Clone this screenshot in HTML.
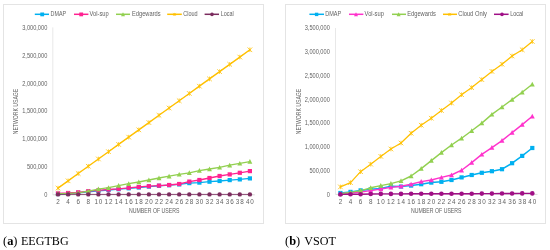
<!DOCTYPE html>
<html><head><meta charset="utf-8"><title>Network usage charts</title>
<style>
html,body{margin:0;padding:0;background:#fff;width:550px;height:250px;overflow:hidden}
svg{display:block}
</style></head><body>
<svg width="550" height="250" viewBox="0 0 550 250" font-family="'Liberation Sans', Arial, sans-serif">
<rect x="3.5" y="4.5" width="260" height="219" fill="#fff" stroke="#e4e4e4" stroke-width="1"/>
<line x1="52.8" y1="27.4" x2="52.8" y2="194.8" stroke="#e8e8e8" stroke-width="1"/>
<line x1="52.8" y1="194.8" x2="254.8" y2="194.8" stroke="#d9d9d9" stroke-width="1"/>
<text x="47.3" y="197.1" font-size="6.4" text-anchor="end" fill="#636363" textLength="3.14" lengthAdjust="spacingAndGlyphs">0</text>
<text x="47.3" y="169.2" font-size="6.4" text-anchor="end" fill="#636363" textLength="20.41" lengthAdjust="spacingAndGlyphs">500,000</text>
<text x="47.3" y="141.3" font-size="6.4" text-anchor="end" fill="#636363" textLength="25.1" lengthAdjust="spacingAndGlyphs">1,000,000</text>
<text x="47.3" y="113.4" font-size="6.4" text-anchor="end" fill="#636363" textLength="25.1" lengthAdjust="spacingAndGlyphs">1,500,000</text>
<text x="47.3" y="85.5" font-size="6.4" text-anchor="end" fill="#636363" textLength="25.1" lengthAdjust="spacingAndGlyphs">2,000,000</text>
<text x="47.3" y="57.6" font-size="6.4" text-anchor="end" fill="#636363" textLength="25.1" lengthAdjust="spacingAndGlyphs">2,500,000</text>
<text x="47.3" y="29.7" font-size="6.4" text-anchor="end" fill="#636363" textLength="25.1" lengthAdjust="spacingAndGlyphs">3,000,000</text>
<text x="58" y="203.8" font-size="6.3" text-anchor="middle" fill="#636363">2</text>
<text x="68.1" y="203.8" font-size="6.3" text-anchor="middle" fill="#636363">4</text>
<text x="78.2" y="203.8" font-size="6.3" text-anchor="middle" fill="#636363">6</text>
<text x="88.3" y="203.8" font-size="6.3" text-anchor="middle" fill="#636363">8</text>
<text x="98.4" y="203.8" font-size="6.3" text-anchor="middle" fill="#636363" textLength="7.9" lengthAdjust="spacing">10</text>
<text x="108.5" y="203.8" font-size="6.3" text-anchor="middle" fill="#636363" textLength="7.9" lengthAdjust="spacing">12</text>
<text x="118.6" y="203.8" font-size="6.3" text-anchor="middle" fill="#636363" textLength="7.9" lengthAdjust="spacing">14</text>
<text x="128.7" y="203.8" font-size="6.3" text-anchor="middle" fill="#636363" textLength="7.9" lengthAdjust="spacing">16</text>
<text x="138.8" y="203.8" font-size="6.3" text-anchor="middle" fill="#636363" textLength="7.9" lengthAdjust="spacing">18</text>
<text x="148.9" y="203.8" font-size="6.3" text-anchor="middle" fill="#636363" textLength="7.9" lengthAdjust="spacing">20</text>
<text x="159" y="203.8" font-size="6.3" text-anchor="middle" fill="#636363" textLength="7.9" lengthAdjust="spacing">22</text>
<text x="169.1" y="203.8" font-size="6.3" text-anchor="middle" fill="#636363" textLength="7.9" lengthAdjust="spacing">24</text>
<text x="179.2" y="203.8" font-size="6.3" text-anchor="middle" fill="#636363" textLength="7.9" lengthAdjust="spacing">26</text>
<text x="189.3" y="203.8" font-size="6.3" text-anchor="middle" fill="#636363" textLength="7.9" lengthAdjust="spacing">28</text>
<text x="199.4" y="203.8" font-size="6.3" text-anchor="middle" fill="#636363" textLength="7.9" lengthAdjust="spacing">30</text>
<text x="209.5" y="203.8" font-size="6.3" text-anchor="middle" fill="#636363" textLength="7.9" lengthAdjust="spacing">32</text>
<text x="219.6" y="203.8" font-size="6.3" text-anchor="middle" fill="#636363" textLength="7.9" lengthAdjust="spacing">34</text>
<text x="229.7" y="203.8" font-size="6.3" text-anchor="middle" fill="#636363" textLength="7.9" lengthAdjust="spacing">36</text>
<text x="239.8" y="203.8" font-size="6.3" text-anchor="middle" fill="#636363" textLength="7.9" lengthAdjust="spacing">38</text>
<text x="249.9" y="203.8" font-size="6.3" text-anchor="middle" fill="#636363" textLength="7.9" lengthAdjust="spacing">40</text>
<text x="154.2" y="213.1" font-size="6.3" text-anchor="middle" fill="#636363" textLength="50.5" lengthAdjust="spacingAndGlyphs">NUMBER OF USERS</text>
<text x="0" y="0" font-size="6.3" text-anchor="middle" textLength="45.5" lengthAdjust="spacingAndGlyphs" fill="#636363" transform="translate(18.2 111.5) rotate(-90)">NETWORK USAGE</text>
<polyline points="58,194 68.1,193.6 78.2,192.9 88.3,191.8 98.4,190.9 108.5,190 118.6,189.2 128.7,188.3 138.8,187.5 148.9,186.6 159,185.8 169.1,185.2 179.2,184.4 189.3,183.1 199.4,182.6 209.5,181.7 219.6,181 229.7,180.1 239.8,179.4 249.9,178.4" fill="none" stroke="#00b0f0" stroke-width="1.35" stroke-linejoin="round" stroke-linecap="round"/>
<rect x="55.9" y="191.9" width="4.2" height="4.2" fill="#00b0f0"/>
<rect x="66" y="191.5" width="4.2" height="4.2" fill="#00b0f0"/>
<rect x="76.1" y="190.8" width="4.2" height="4.2" fill="#00b0f0"/>
<rect x="86.2" y="189.7" width="4.2" height="4.2" fill="#00b0f0"/>
<rect x="96.3" y="188.8" width="4.2" height="4.2" fill="#00b0f0"/>
<rect x="106.4" y="187.9" width="4.2" height="4.2" fill="#00b0f0"/>
<rect x="116.5" y="187.1" width="4.2" height="4.2" fill="#00b0f0"/>
<rect x="126.6" y="186.2" width="4.2" height="4.2" fill="#00b0f0"/>
<rect x="136.7" y="185.4" width="4.2" height="4.2" fill="#00b0f0"/>
<rect x="146.8" y="184.5" width="4.2" height="4.2" fill="#00b0f0"/>
<rect x="156.9" y="183.7" width="4.2" height="4.2" fill="#00b0f0"/>
<rect x="167" y="183.1" width="4.2" height="4.2" fill="#00b0f0"/>
<rect x="177.1" y="182.3" width="4.2" height="4.2" fill="#00b0f0"/>
<rect x="187.2" y="181" width="4.2" height="4.2" fill="#00b0f0"/>
<rect x="197.3" y="180.5" width="4.2" height="4.2" fill="#00b0f0"/>
<rect x="207.4" y="179.6" width="4.2" height="4.2" fill="#00b0f0"/>
<rect x="217.5" y="178.9" width="4.2" height="4.2" fill="#00b0f0"/>
<rect x="227.6" y="178" width="4.2" height="4.2" fill="#00b0f0"/>
<rect x="237.7" y="177.3" width="4.2" height="4.2" fill="#00b0f0"/>
<rect x="247.8" y="176.3" width="4.2" height="4.2" fill="#00b0f0"/>
<polyline points="58,193.4 68.1,193 78.2,192.3 88.3,191.2 98.4,190.4 108.5,189.5 118.6,188.8 128.7,187.8 138.8,187 148.9,186.2 159,185.6 169.1,185 179.2,184 189.3,181.6 199.4,180 209.5,178 219.6,176 229.7,174.4 239.8,172.8 249.9,171.1" fill="none" stroke="#ff2291" stroke-width="1.35" stroke-linejoin="round" stroke-linecap="round"/>
<rect x="55.9" y="191.3" width="4.2" height="4.2" fill="#ff2291"/>
<rect x="66" y="190.9" width="4.2" height="4.2" fill="#ff2291"/>
<rect x="76.1" y="190.2" width="4.2" height="4.2" fill="#ff2291"/>
<rect x="86.2" y="189.1" width="4.2" height="4.2" fill="#ff2291"/>
<rect x="96.3" y="188.3" width="4.2" height="4.2" fill="#ff2291"/>
<rect x="106.4" y="187.4" width="4.2" height="4.2" fill="#ff2291"/>
<rect x="116.5" y="186.7" width="4.2" height="4.2" fill="#ff2291"/>
<rect x="126.6" y="185.7" width="4.2" height="4.2" fill="#ff2291"/>
<rect x="136.7" y="184.9" width="4.2" height="4.2" fill="#ff2291"/>
<rect x="146.8" y="184.1" width="4.2" height="4.2" fill="#ff2291"/>
<rect x="156.9" y="183.5" width="4.2" height="4.2" fill="#ff2291"/>
<rect x="167" y="182.9" width="4.2" height="4.2" fill="#ff2291"/>
<rect x="177.1" y="181.9" width="4.2" height="4.2" fill="#ff2291"/>
<rect x="187.2" y="179.5" width="4.2" height="4.2" fill="#ff2291"/>
<rect x="197.3" y="177.9" width="4.2" height="4.2" fill="#ff2291"/>
<rect x="207.4" y="175.9" width="4.2" height="4.2" fill="#ff2291"/>
<rect x="217.5" y="173.9" width="4.2" height="4.2" fill="#ff2291"/>
<rect x="227.6" y="172.3" width="4.2" height="4.2" fill="#ff2291"/>
<rect x="237.7" y="170.7" width="4.2" height="4.2" fill="#ff2291"/>
<rect x="247.8" y="169" width="4.2" height="4.2" fill="#ff2291"/>
<polyline points="58,193.6 68.1,193.4 78.2,192.8 88.3,191.2 98.4,189.1 108.5,187.7 118.6,185.6 128.7,183.7 138.8,182 148.9,180 159,178 169.1,176.2 179.2,174.4 189.3,172.8 199.4,170.6 209.5,169 219.6,167.4 229.7,165.2 239.8,163.4 249.9,161.6" fill="none" stroke="#92d050" stroke-width="1.35" stroke-linejoin="round" stroke-linecap="round"/>
<polygon points="58,191.09 60.45,195.81 55.55,195.81" fill="#92d050"/>
<polygon points="68.1,190.89 70.55,195.61 65.65,195.61" fill="#92d050"/>
<polygon points="78.2,190.29 80.65,195.01 75.75,195.01" fill="#92d050"/>
<polygon points="88.3,188.69 90.75,193.41 85.85,193.41" fill="#92d050"/>
<polygon points="98.4,186.59 100.85,191.31 95.95,191.31" fill="#92d050"/>
<polygon points="108.5,185.19 110.95,189.91 106.05,189.91" fill="#92d050"/>
<polygon points="118.6,183.09 121.05,187.81 116.15,187.81" fill="#92d050"/>
<polygon points="128.7,181.19 131.15,185.91 126.25,185.91" fill="#92d050"/>
<polygon points="138.8,179.49 141.25,184.21 136.35,184.21" fill="#92d050"/>
<polygon points="148.9,177.49 151.35,182.21 146.45,182.21" fill="#92d050"/>
<polygon points="159,175.49 161.45,180.21 156.55,180.21" fill="#92d050"/>
<polygon points="169.1,173.69 171.55,178.41 166.65,178.41" fill="#92d050"/>
<polygon points="179.2,171.89 181.65,176.61 176.75,176.61" fill="#92d050"/>
<polygon points="189.3,170.29 191.75,175.01 186.85,175.01" fill="#92d050"/>
<polygon points="199.4,168.09 201.85,172.81 196.95,172.81" fill="#92d050"/>
<polygon points="209.5,166.49 211.95,171.21 207.05,171.21" fill="#92d050"/>
<polygon points="219.6,164.89 222.05,169.61 217.15,169.61" fill="#92d050"/>
<polygon points="229.7,162.69 232.15,167.41 227.25,167.41" fill="#92d050"/>
<polygon points="239.8,160.89 242.25,165.61 237.35,165.61" fill="#92d050"/>
<polygon points="249.9,159.09 252.35,163.81 247.45,163.81" fill="#92d050"/>
<polyline points="58,188.1 68.1,180.82 78.2,173.54 88.3,166.26 98.4,158.98 108.5,151.7 118.6,144.42 128.7,137.14 138.8,129.86 148.9,122.58 159,115.3 169.1,108.02 179.2,100.74 189.3,93.46 199.4,86.18 209.5,78.9 219.6,71.62 229.7,64.34 239.8,57.06 249.9,49.78" fill="none" stroke="#ffc000" stroke-width="1.4" stroke-linejoin="round" stroke-linecap="round"/>
<path d="M55.7 185.8L60.3 190.4M55.7 190.4L60.3 185.8M58 185.8L58 190.4" stroke="#ffc000" stroke-width="0.8" fill="none"/>
<path d="M65.8 178.52L70.4 183.12M65.8 183.12L70.4 178.52M68.1 178.52L68.1 183.12" stroke="#ffc000" stroke-width="0.8" fill="none"/>
<path d="M75.9 171.24L80.5 175.84M75.9 175.84L80.5 171.24M78.2 171.24L78.2 175.84" stroke="#ffc000" stroke-width="0.8" fill="none"/>
<path d="M86 163.96L90.6 168.56M86 168.56L90.6 163.96M88.3 163.96L88.3 168.56" stroke="#ffc000" stroke-width="0.8" fill="none"/>
<path d="M96.1 156.68L100.7 161.28M96.1 161.28L100.7 156.68M98.4 156.68L98.4 161.28" stroke="#ffc000" stroke-width="0.8" fill="none"/>
<path d="M106.2 149.4L110.8 154M106.2 154L110.8 149.4M108.5 149.4L108.5 154" stroke="#ffc000" stroke-width="0.8" fill="none"/>
<path d="M116.3 142.12L120.9 146.72M116.3 146.72L120.9 142.12M118.6 142.12L118.6 146.72" stroke="#ffc000" stroke-width="0.8" fill="none"/>
<path d="M126.4 134.84L131 139.44M126.4 139.44L131 134.84M128.7 134.84L128.7 139.44" stroke="#ffc000" stroke-width="0.8" fill="none"/>
<path d="M136.5 127.56L141.1 132.16M136.5 132.16L141.1 127.56M138.8 127.56L138.8 132.16" stroke="#ffc000" stroke-width="0.8" fill="none"/>
<path d="M146.6 120.28L151.2 124.88M146.6 124.88L151.2 120.28M148.9 120.28L148.9 124.88" stroke="#ffc000" stroke-width="0.8" fill="none"/>
<path d="M156.7 113L161.3 117.6M156.7 117.6L161.3 113M159 113L159 117.6" stroke="#ffc000" stroke-width="0.8" fill="none"/>
<path d="M166.8 105.72L171.4 110.32M166.8 110.32L171.4 105.72M169.1 105.72L169.1 110.32" stroke="#ffc000" stroke-width="0.8" fill="none"/>
<path d="M176.9 98.44L181.5 103.04M176.9 103.04L181.5 98.44M179.2 98.44L179.2 103.04" stroke="#ffc000" stroke-width="0.8" fill="none"/>
<path d="M187 91.16L191.6 95.76M187 95.76L191.6 91.16M189.3 91.16L189.3 95.76" stroke="#ffc000" stroke-width="0.8" fill="none"/>
<path d="M197.1 83.88L201.7 88.48M197.1 88.48L201.7 83.88M199.4 83.88L199.4 88.48" stroke="#ffc000" stroke-width="0.8" fill="none"/>
<path d="M207.2 76.6L211.8 81.2M207.2 81.2L211.8 76.6M209.5 76.6L209.5 81.2" stroke="#ffc000" stroke-width="0.8" fill="none"/>
<path d="M217.3 69.32L221.9 73.92M217.3 73.92L221.9 69.32M219.6 69.32L219.6 73.92" stroke="#ffc000" stroke-width="0.8" fill="none"/>
<path d="M227.4 62.04L232 66.64M227.4 66.64L232 62.04M229.7 62.04L229.7 66.64" stroke="#ffc000" stroke-width="0.8" fill="none"/>
<path d="M237.5 54.76L242.1 59.36M237.5 59.36L242.1 54.76M239.8 54.76L239.8 59.36" stroke="#ffc000" stroke-width="0.8" fill="none"/>
<path d="M247.6 47.48L252.2 52.08M247.6 52.08L252.2 47.48M249.9 47.48L249.9 52.08" stroke="#ffc000" stroke-width="0.8" fill="none"/>
<polyline points="58,194.4 68.1,194.4 78.2,194.4 88.3,194.4 98.4,194.4 108.5,194.4 118.6,194.4 128.7,194.4 138.8,194.4 148.9,194.4 159,194.4 169.1,194.4 179.2,194.4 189.3,194.4 199.4,194.4 209.5,194.4 219.6,194.4 229.7,194.4 239.8,194.4 249.9,194.4" fill="none" stroke="#7b2c5e" stroke-width="0.85" stroke-linejoin="round" stroke-linecap="round"/>
<circle cx="58" cy="194.4" r="2.2" fill="#7b2c5e"/>
<circle cx="68.1" cy="194.4" r="2.2" fill="#7b2c5e"/>
<circle cx="78.2" cy="194.4" r="2.2" fill="#7b2c5e"/>
<circle cx="88.3" cy="194.4" r="2.2" fill="#7b2c5e"/>
<circle cx="98.4" cy="194.4" r="2.2" fill="#7b2c5e"/>
<circle cx="108.5" cy="194.4" r="2.2" fill="#7b2c5e"/>
<circle cx="118.6" cy="194.4" r="2.2" fill="#7b2c5e"/>
<circle cx="128.7" cy="194.4" r="2.2" fill="#7b2c5e"/>
<circle cx="138.8" cy="194.4" r="2.2" fill="#7b2c5e"/>
<circle cx="148.9" cy="194.4" r="2.2" fill="#7b2c5e"/>
<circle cx="159" cy="194.4" r="2.2" fill="#7b2c5e"/>
<circle cx="169.1" cy="194.4" r="2.2" fill="#7b2c5e"/>
<circle cx="179.2" cy="194.4" r="2.2" fill="#7b2c5e"/>
<circle cx="189.3" cy="194.4" r="2.2" fill="#7b2c5e"/>
<circle cx="199.4" cy="194.4" r="2.2" fill="#7b2c5e"/>
<circle cx="209.5" cy="194.4" r="2.2" fill="#7b2c5e"/>
<circle cx="219.6" cy="194.4" r="2.2" fill="#7b2c5e"/>
<circle cx="229.7" cy="194.4" r="2.2" fill="#7b2c5e"/>
<circle cx="239.8" cy="194.4" r="2.2" fill="#7b2c5e"/>
<circle cx="249.9" cy="194.4" r="2.2" fill="#7b2c5e"/>
<line x1="34.8" y1="14.3" x2="49" y2="14.3" stroke="#00b0f0" stroke-width="1.5"/>
<rect x="40.3" y="12.5" width="3.8" height="3.8" fill="#00b0f0"/>
<text x="50.6" y="16.1" font-size="6.6" text-anchor="start" fill="#636363" textLength="15.6" lengthAdjust="spacingAndGlyphs">DMAP</text>
<line x1="74" y1="14.3" x2="88.4" y2="14.3" stroke="#ff2291" stroke-width="1.5"/>
<rect x="79.3" y="12.5" width="3.8" height="3.8" fill="#ff2291"/>
<text x="89.6" y="16.1" font-size="6.6" text-anchor="start" fill="#636363" textLength="19.1" lengthAdjust="spacingAndGlyphs">Vol-sup</text>
<line x1="116" y1="14.3" x2="130" y2="14.3" stroke="#92d050" stroke-width="1.5"/>
<polygon points="123,12.3 125,16.2 121,16.2" fill="#92d050"/>
<text x="132" y="16.1" font-size="6.6" text-anchor="start" fill="#636363" textLength="28.6" lengthAdjust="spacingAndGlyphs">Edgewards</text>
<line x1="167.2" y1="14.3" x2="181.8" y2="14.3" stroke="#ffc000" stroke-width="1.5"/>
<path d="M173 12.9L176 15.9M173 15.9L176 12.9M174.5 12.9L174.5 15.9" stroke="#ffc000" stroke-width="0.6" fill="none"/>
<text x="183.2" y="16.1" font-size="6.6" text-anchor="start" fill="#636363" textLength="14.4" lengthAdjust="spacingAndGlyphs">Cloud</text>
<line x1="204.6" y1="14.3" x2="219" y2="14.3" stroke="#7b2c5e" stroke-width="1.5"/>
<circle cx="212" cy="14.4" r="1.8" fill="#7b2c5e"/>
<text x="220.8" y="16.1" font-size="6.6" text-anchor="start" fill="#636363" textLength="13" lengthAdjust="spacingAndGlyphs">Local</text>
<rect x="285.5" y="4.5" width="260" height="219" fill="#fff" stroke="#e4e4e4" stroke-width="1"/>
<line x1="335.5" y1="28.01" x2="335.5" y2="194.4" stroke="#e8e8e8" stroke-width="1"/>
<line x1="335.5" y1="194.4" x2="537.5" y2="194.4" stroke="#d9d9d9" stroke-width="1"/>
<text x="329.8" y="196.7" font-size="6.4" text-anchor="end" fill="#636363" textLength="3.14" lengthAdjust="spacingAndGlyphs">0</text>
<text x="329.8" y="172.93" font-size="6.4" text-anchor="end" fill="#636363" textLength="20.41" lengthAdjust="spacingAndGlyphs">500,000</text>
<text x="329.8" y="149.16" font-size="6.4" text-anchor="end" fill="#636363" textLength="25.1" lengthAdjust="spacingAndGlyphs">1,000,000</text>
<text x="329.8" y="125.39" font-size="6.4" text-anchor="end" fill="#636363" textLength="25.1" lengthAdjust="spacingAndGlyphs">1,500,000</text>
<text x="329.8" y="101.62" font-size="6.4" text-anchor="end" fill="#636363" textLength="25.1" lengthAdjust="spacingAndGlyphs">2,000,000</text>
<text x="329.8" y="77.85" font-size="6.4" text-anchor="end" fill="#636363" textLength="25.1" lengthAdjust="spacingAndGlyphs">2,500,000</text>
<text x="329.8" y="54.08" font-size="6.4" text-anchor="end" fill="#636363" textLength="25.1" lengthAdjust="spacingAndGlyphs">3,000,000</text>
<text x="329.8" y="30.31" font-size="6.4" text-anchor="end" fill="#636363" textLength="25.1" lengthAdjust="spacingAndGlyphs">3,500,000</text>
<text x="340.4" y="203.8" font-size="6.3" text-anchor="middle" fill="#636363">2</text>
<text x="350.5" y="203.8" font-size="6.3" text-anchor="middle" fill="#636363">4</text>
<text x="360.6" y="203.8" font-size="6.3" text-anchor="middle" fill="#636363">6</text>
<text x="370.7" y="203.8" font-size="6.3" text-anchor="middle" fill="#636363">8</text>
<text x="380.8" y="203.8" font-size="6.3" text-anchor="middle" fill="#636363" textLength="7.9" lengthAdjust="spacing">10</text>
<text x="390.9" y="203.8" font-size="6.3" text-anchor="middle" fill="#636363" textLength="7.9" lengthAdjust="spacing">12</text>
<text x="401" y="203.8" font-size="6.3" text-anchor="middle" fill="#636363" textLength="7.9" lengthAdjust="spacing">14</text>
<text x="411.1" y="203.8" font-size="6.3" text-anchor="middle" fill="#636363" textLength="7.9" lengthAdjust="spacing">16</text>
<text x="421.2" y="203.8" font-size="6.3" text-anchor="middle" fill="#636363" textLength="7.9" lengthAdjust="spacing">18</text>
<text x="431.3" y="203.8" font-size="6.3" text-anchor="middle" fill="#636363" textLength="7.9" lengthAdjust="spacing">20</text>
<text x="441.4" y="203.8" font-size="6.3" text-anchor="middle" fill="#636363" textLength="7.9" lengthAdjust="spacing">22</text>
<text x="451.5" y="203.8" font-size="6.3" text-anchor="middle" fill="#636363" textLength="7.9" lengthAdjust="spacing">24</text>
<text x="461.6" y="203.8" font-size="6.3" text-anchor="middle" fill="#636363" textLength="7.9" lengthAdjust="spacing">26</text>
<text x="471.7" y="203.8" font-size="6.3" text-anchor="middle" fill="#636363" textLength="7.9" lengthAdjust="spacing">28</text>
<text x="481.8" y="203.8" font-size="6.3" text-anchor="middle" fill="#636363" textLength="7.9" lengthAdjust="spacing">30</text>
<text x="491.9" y="203.8" font-size="6.3" text-anchor="middle" fill="#636363" textLength="7.9" lengthAdjust="spacing">32</text>
<text x="502" y="203.8" font-size="6.3" text-anchor="middle" fill="#636363" textLength="7.9" lengthAdjust="spacing">34</text>
<text x="512.1" y="203.8" font-size="6.3" text-anchor="middle" fill="#636363" textLength="7.9" lengthAdjust="spacing">36</text>
<text x="522.2" y="203.8" font-size="6.3" text-anchor="middle" fill="#636363" textLength="7.9" lengthAdjust="spacing">38</text>
<text x="532.3" y="203.8" font-size="6.3" text-anchor="middle" fill="#636363" textLength="7.9" lengthAdjust="spacing">40</text>
<text x="436.3" y="213.1" font-size="6.3" text-anchor="middle" fill="#636363" textLength="50.5" lengthAdjust="spacingAndGlyphs">NUMBER OF USERS</text>
<text x="0" y="0" font-size="6.3" text-anchor="middle" textLength="45.5" lengthAdjust="spacingAndGlyphs" fill="#636363" transform="translate(300.8 111.5) rotate(-90)">NETWORK USAGE</text>
<polyline points="340.4,193 350.5,191.9 360.6,190.4 370.7,189.3 380.8,188.4 390.9,186.2 401,186.6 411.1,185.6 421.2,184.2 431.3,182.6 441.4,181.8 451.5,180 461.6,177.4 471.7,175 481.8,172.8 491.9,171.2 502,169.2 512.1,163.2 522.2,155.9 532.3,148" fill="none" stroke="#00b0f0" stroke-width="1.5" stroke-linejoin="round" stroke-linecap="round"/>
<rect x="338.3" y="190.9" width="4.2" height="4.2" fill="#00b0f0"/>
<rect x="348.4" y="189.8" width="4.2" height="4.2" fill="#00b0f0"/>
<rect x="358.5" y="188.3" width="4.2" height="4.2" fill="#00b0f0"/>
<rect x="368.6" y="187.2" width="4.2" height="4.2" fill="#00b0f0"/>
<rect x="378.7" y="186.3" width="4.2" height="4.2" fill="#00b0f0"/>
<rect x="388.8" y="184.1" width="4.2" height="4.2" fill="#00b0f0"/>
<rect x="398.9" y="184.5" width="4.2" height="4.2" fill="#00b0f0"/>
<rect x="409" y="183.5" width="4.2" height="4.2" fill="#00b0f0"/>
<rect x="419.1" y="182.1" width="4.2" height="4.2" fill="#00b0f0"/>
<rect x="429.2" y="180.5" width="4.2" height="4.2" fill="#00b0f0"/>
<rect x="439.3" y="179.7" width="4.2" height="4.2" fill="#00b0f0"/>
<rect x="449.4" y="177.9" width="4.2" height="4.2" fill="#00b0f0"/>
<rect x="459.5" y="175.3" width="4.2" height="4.2" fill="#00b0f0"/>
<rect x="469.6" y="172.9" width="4.2" height="4.2" fill="#00b0f0"/>
<rect x="479.7" y="170.7" width="4.2" height="4.2" fill="#00b0f0"/>
<rect x="489.8" y="169.1" width="4.2" height="4.2" fill="#00b0f0"/>
<rect x="499.9" y="167.1" width="4.2" height="4.2" fill="#00b0f0"/>
<rect x="510" y="161.1" width="4.2" height="4.2" fill="#00b0f0"/>
<rect x="520.1" y="153.8" width="4.2" height="4.2" fill="#00b0f0"/>
<rect x="530.2" y="145.9" width="4.2" height="4.2" fill="#00b0f0"/>
<polyline points="340.4,193.8 350.5,193 360.6,192 370.7,190.6 380.8,189 390.9,187.4 401,186.2 411.1,184.2 421.2,181.6 431.3,180 441.4,177.4 451.5,175 461.6,170.2 471.7,162.6 481.8,154.4 491.9,147.6 502,140.6 512.1,132.6 522.2,124.6 532.3,116.2" fill="none" stroke="#ff33cc" stroke-width="1.4" stroke-linejoin="round" stroke-linecap="round"/>
<polygon points="340.4,191.29 342.85,196.01 337.95,196.01" fill="#ff33cc"/>
<polygon points="350.5,190.49 352.95,195.21 348.05,195.21" fill="#ff33cc"/>
<polygon points="360.6,189.49 363.05,194.21 358.15,194.21" fill="#ff33cc"/>
<polygon points="370.7,188.09 373.15,192.81 368.25,192.81" fill="#ff33cc"/>
<polygon points="380.8,186.49 383.25,191.21 378.35,191.21" fill="#ff33cc"/>
<polygon points="390.9,184.89 393.35,189.61 388.45,189.61" fill="#ff33cc"/>
<polygon points="401,183.69 403.45,188.41 398.55,188.41" fill="#ff33cc"/>
<polygon points="411.1,181.69 413.55,186.41 408.65,186.41" fill="#ff33cc"/>
<polygon points="421.2,179.09 423.65,183.81 418.75,183.81" fill="#ff33cc"/>
<polygon points="431.3,177.49 433.75,182.21 428.85,182.21" fill="#ff33cc"/>
<polygon points="441.4,174.89 443.85,179.61 438.95,179.61" fill="#ff33cc"/>
<polygon points="451.5,172.49 453.95,177.21 449.05,177.21" fill="#ff33cc"/>
<polygon points="461.6,167.69 464.05,172.41 459.15,172.41" fill="#ff33cc"/>
<polygon points="471.7,160.09 474.15,164.81 469.25,164.81" fill="#ff33cc"/>
<polygon points="481.8,151.89 484.25,156.61 479.35,156.61" fill="#ff33cc"/>
<polygon points="491.9,145.09 494.35,149.81 489.45,149.81" fill="#ff33cc"/>
<polygon points="502,138.09 504.45,142.81 499.55,142.81" fill="#ff33cc"/>
<polygon points="512.1,130.09 514.55,134.81 509.65,134.81" fill="#ff33cc"/>
<polygon points="522.2,122.09 524.65,126.8 519.75,126.8" fill="#ff33cc"/>
<polygon points="532.3,113.7 534.75,118.41 529.85,118.41" fill="#ff33cc"/>
<polyline points="340.4,193.8 350.5,192.4 360.6,190.6 370.7,187.8 380.8,185.6 390.9,183.6 401,180.8 411.1,176 421.2,168.6 431.3,160.6 441.4,152.6 451.5,145 461.6,138.2 471.7,130.7 481.8,123.1 491.9,114.4 502,107 512.1,99.6 522.2,92.2 532.3,84.2" fill="none" stroke="#92d050" stroke-width="1.4" stroke-linejoin="round" stroke-linecap="round"/>
<polygon points="340.4,191.29 342.85,196.01 337.95,196.01" fill="#92d050"/>
<polygon points="350.5,189.89 352.95,194.61 348.05,194.61" fill="#92d050"/>
<polygon points="360.6,188.09 363.05,192.81 358.15,192.81" fill="#92d050"/>
<polygon points="370.7,185.29 373.15,190.01 368.25,190.01" fill="#92d050"/>
<polygon points="380.8,183.09 383.25,187.81 378.35,187.81" fill="#92d050"/>
<polygon points="390.9,181.09 393.35,185.81 388.45,185.81" fill="#92d050"/>
<polygon points="401,178.29 403.45,183.01 398.55,183.01" fill="#92d050"/>
<polygon points="411.1,173.49 413.55,178.21 408.65,178.21" fill="#92d050"/>
<polygon points="421.2,166.09 423.65,170.81 418.75,170.81" fill="#92d050"/>
<polygon points="431.3,158.09 433.75,162.81 428.85,162.81" fill="#92d050"/>
<polygon points="441.4,150.09 443.85,154.81 438.95,154.81" fill="#92d050"/>
<polygon points="451.5,142.49 453.95,147.21 449.05,147.21" fill="#92d050"/>
<polygon points="461.6,135.69 464.05,140.41 459.15,140.41" fill="#92d050"/>
<polygon points="471.7,128.19 474.15,132.91 469.25,132.91" fill="#92d050"/>
<polygon points="481.8,120.59 484.25,125.3 479.35,125.3" fill="#92d050"/>
<polygon points="491.9,111.9 494.35,116.61 489.45,116.61" fill="#92d050"/>
<polygon points="502,104.5 504.45,109.2 499.55,109.2" fill="#92d050"/>
<polygon points="512.1,97.09 514.55,101.8 509.65,101.8" fill="#92d050"/>
<polygon points="522.2,89.7 524.65,94.41 519.75,94.41" fill="#92d050"/>
<polygon points="532.3,81.7 534.75,86.41 529.85,86.41" fill="#92d050"/>
<polyline points="340.4,186.9 350.5,182.7 360.6,171.7 370.7,164.2 380.8,156.4 390.9,149 401,143 411.1,133.2 421.2,125.2 431.3,118.2 441.4,110.5 451.5,103 461.6,94.7 471.7,87.6 481.8,79.6 491.9,71.4 502,64.2 512.1,56 522.2,49.8 532.3,41.5" fill="none" stroke="#ffc000" stroke-width="1.25" stroke-linejoin="round" stroke-linecap="round"/>
<path d="M338.1 184.6L342.7 189.2M338.1 189.2L342.7 184.6M340.4 184.6L340.4 189.2" stroke="#ffc000" stroke-width="0.8" fill="none"/>
<path d="M348.2 180.4L352.8 185M348.2 185L352.8 180.4M350.5 180.4L350.5 185" stroke="#ffc000" stroke-width="0.8" fill="none"/>
<path d="M358.3 169.4L362.9 174M358.3 174L362.9 169.4M360.6 169.4L360.6 174" stroke="#ffc000" stroke-width="0.8" fill="none"/>
<path d="M368.4 161.9L373 166.5M368.4 166.5L373 161.9M370.7 161.9L370.7 166.5" stroke="#ffc000" stroke-width="0.8" fill="none"/>
<path d="M378.5 154.1L383.1 158.7M378.5 158.7L383.1 154.1M380.8 154.1L380.8 158.7" stroke="#ffc000" stroke-width="0.8" fill="none"/>
<path d="M388.6 146.7L393.2 151.3M388.6 151.3L393.2 146.7M390.9 146.7L390.9 151.3" stroke="#ffc000" stroke-width="0.8" fill="none"/>
<path d="M398.7 140.7L403.3 145.3M398.7 145.3L403.3 140.7M401 140.7L401 145.3" stroke="#ffc000" stroke-width="0.8" fill="none"/>
<path d="M408.8 130.9L413.4 135.5M408.8 135.5L413.4 130.9M411.1 130.9L411.1 135.5" stroke="#ffc000" stroke-width="0.8" fill="none"/>
<path d="M418.9 122.9L423.5 127.5M418.9 127.5L423.5 122.9M421.2 122.9L421.2 127.5" stroke="#ffc000" stroke-width="0.8" fill="none"/>
<path d="M429 115.9L433.6 120.5M429 120.5L433.6 115.9M431.3 115.9L431.3 120.5" stroke="#ffc000" stroke-width="0.8" fill="none"/>
<path d="M439.1 108.2L443.7 112.8M439.1 112.8L443.7 108.2M441.4 108.2L441.4 112.8" stroke="#ffc000" stroke-width="0.8" fill="none"/>
<path d="M449.2 100.7L453.8 105.3M449.2 105.3L453.8 100.7M451.5 100.7L451.5 105.3" stroke="#ffc000" stroke-width="0.8" fill="none"/>
<path d="M459.3 92.4L463.9 97M459.3 97L463.9 92.4M461.6 92.4L461.6 97" stroke="#ffc000" stroke-width="0.8" fill="none"/>
<path d="M469.4 85.3L474 89.9M469.4 89.9L474 85.3M471.7 85.3L471.7 89.9" stroke="#ffc000" stroke-width="0.8" fill="none"/>
<path d="M479.5 77.3L484.1 81.9M479.5 81.9L484.1 77.3M481.8 77.3L481.8 81.9" stroke="#ffc000" stroke-width="0.8" fill="none"/>
<path d="M489.6 69.1L494.2 73.7M489.6 73.7L494.2 69.1M491.9 69.1L491.9 73.7" stroke="#ffc000" stroke-width="0.8" fill="none"/>
<path d="M499.7 61.9L504.3 66.5M499.7 66.5L504.3 61.9M502 61.9L502 66.5" stroke="#ffc000" stroke-width="0.8" fill="none"/>
<path d="M509.8 53.7L514.4 58.3M509.8 58.3L514.4 53.7M512.1 53.7L512.1 58.3" stroke="#ffc000" stroke-width="0.8" fill="none"/>
<path d="M519.9 47.5L524.5 52.1M519.9 52.1L524.5 47.5M522.2 47.5L522.2 52.1" stroke="#ffc000" stroke-width="0.8" fill="none"/>
<path d="M530 39.2L534.6 43.8M530 43.8L534.6 39.2M532.3 39.2L532.3 43.8" stroke="#ffc000" stroke-width="0.8" fill="none"/>
<polyline points="340.4,194.4 350.5,194.3 360.6,194.2 370.7,194 380.8,193.9 390.9,193.9 401,193.9 411.1,193.8 421.2,193.8 431.3,193.8 441.4,193.8 451.5,193.8 461.6,193.7 471.7,193.7 481.8,193.6 491.9,193.6 502,193.5 512.1,193.5 522.2,193.4 532.3,193.4" fill="none" stroke="#a00f86" stroke-width="1.4" stroke-linejoin="round" stroke-linecap="round"/>
<circle cx="340.4" cy="194.4" r="2.3" fill="#a00f86"/>
<circle cx="350.5" cy="194.3" r="2.3" fill="#a00f86"/>
<circle cx="360.6" cy="194.2" r="2.3" fill="#a00f86"/>
<circle cx="370.7" cy="194" r="2.3" fill="#a00f86"/>
<circle cx="380.8" cy="193.9" r="2.3" fill="#a00f86"/>
<circle cx="390.9" cy="193.9" r="2.3" fill="#a00f86"/>
<circle cx="401" cy="193.9" r="2.3" fill="#a00f86"/>
<circle cx="411.1" cy="193.8" r="2.3" fill="#a00f86"/>
<circle cx="421.2" cy="193.8" r="2.3" fill="#a00f86"/>
<circle cx="431.3" cy="193.8" r="2.3" fill="#a00f86"/>
<circle cx="441.4" cy="193.8" r="2.3" fill="#a00f86"/>
<circle cx="451.5" cy="193.8" r="2.3" fill="#a00f86"/>
<circle cx="461.6" cy="193.7" r="2.3" fill="#a00f86"/>
<circle cx="471.7" cy="193.7" r="2.3" fill="#a00f86"/>
<circle cx="481.8" cy="193.6" r="2.3" fill="#a00f86"/>
<circle cx="491.9" cy="193.6" r="2.3" fill="#a00f86"/>
<circle cx="502" cy="193.5" r="2.3" fill="#a00f86"/>
<circle cx="512.1" cy="193.5" r="2.3" fill="#a00f86"/>
<circle cx="522.2" cy="193.4" r="2.3" fill="#a00f86"/>
<circle cx="532.3" cy="193.4" r="2.3" fill="#a00f86"/>
<line x1="309.4" y1="14.3" x2="324" y2="14.3" stroke="#00b0f0" stroke-width="1.5"/>
<rect x="314.9" y="12.7" width="3.4" height="3.4" fill="#00b0f0"/>
<text x="325.2" y="16.1" font-size="6.6" text-anchor="start" fill="#636363" textLength="16" lengthAdjust="spacingAndGlyphs">DMAP</text>
<line x1="349" y1="14.3" x2="363.4" y2="14.3" stroke="#ff33cc" stroke-width="1.5"/>
<polygon points="356,12.3 358,16.2 354,16.2" fill="#ff33cc"/>
<text x="364.6" y="16.1" font-size="6.6" text-anchor="start" fill="#636363" textLength="19.3" lengthAdjust="spacingAndGlyphs">Vol-sup</text>
<line x1="392" y1="14.3" x2="406" y2="14.3" stroke="#92d050" stroke-width="1.5"/>
<polygon points="398.6,12.3 400.6,16.2 396.6,16.2" fill="#92d050"/>
<text x="407.2" y="16.1" font-size="6.6" text-anchor="start" fill="#636363" textLength="28.7" lengthAdjust="spacingAndGlyphs">Edgewards</text>
<line x1="443" y1="14.3" x2="457" y2="14.3" stroke="#ffc000" stroke-width="1.5"/>
<path d="M448.1 12.9L451.1 15.9M448.1 15.9L451.1 12.9M449.6 12.9L449.6 15.9" stroke="#ffc000" stroke-width="0.6" fill="none"/>
<text x="458.2" y="16.1" font-size="6.6" text-anchor="start" fill="#636363" textLength="28.7" lengthAdjust="spacingAndGlyphs">Cloud Only</text>
<line x1="494" y1="14.3" x2="508.6" y2="14.3" stroke="#a00f86" stroke-width="1.5"/>
<circle cx="502" cy="14.4" r="1.8" fill="#a00f86"/>
<text x="510.2" y="16.1" font-size="6.6" text-anchor="start" fill="#636363" textLength="13.1" lengthAdjust="spacingAndGlyphs">Local</text>
<text x="3" y="244.6" font-family="'Liberation Serif', serif" font-size="12.4" fill="#000">(<tspan font-weight="bold">a</tspan>)</text>
<text x="21" y="244.6" font-family="'Liberation Serif', serif" font-size="13.2" fill="#000" textLength="47.6" lengthAdjust="spacingAndGlyphs">EEGTBG</text>
<text x="285" y="244.6" font-family="'Liberation Serif', serif" font-size="12.4" fill="#000">(<tspan font-weight="bold">b</tspan>)</text>
<text x="304.2" y="244.6" font-family="'Liberation Serif', serif" font-size="13.2" fill="#000" textLength="31.6" lengthAdjust="spacingAndGlyphs">VSOT</text>
</svg>
</body></html>
